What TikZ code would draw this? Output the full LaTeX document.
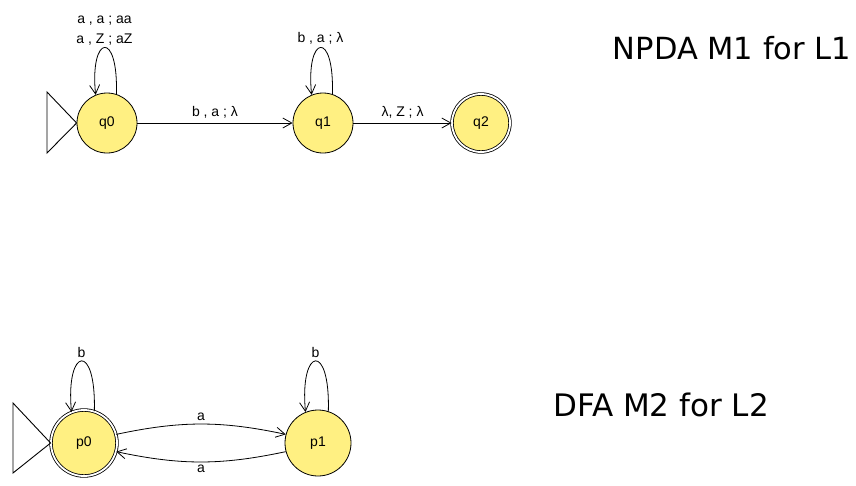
\documentclass[tikz,border=0pt]{standalone}
\usepackage{fontspec}
\setmainfont{Liberation Sans}
\newfontfamily\titlefont{DejaVu Sans}
\usetikzlibrary{arrows.meta}
\definecolor{stfill}{RGB}{255,240,130}
\begin{document}
\begin{tikzpicture}[x=1pt,y=-1pt,
  st/.style={circle,draw,line width=0.8pt,fill=stfill,minimum size=60pt,inner sep=0pt,font=\fontsize{14}{14}\selectfont},
  acc/.style={st,double,double distance=1.8pt},
  edge/.style={-{Straight Barb[length=9pt,width=10pt]},line width=0.8pt},
  lbl/.style={font=\fontsize{14}{15}\selectfont,inner sep=1pt},
  tri/.style={draw,line width=0.9pt}]
\useasboundingbox (0,0) rectangle (856,485);
\node[st] (q0) at (107,123) {q0};
\node[st] (q1) at (323,123) {q1};
\node[acc,minimum size=58pt] (q2) at (481,123) {q2};
\node[acc,minimum size=66pt] (p0) at (84,443) {p0};
\node[st,minimum size=66pt] (p1) at (318,443) {p1};
\coordinate (t0a) at (47,92); \coordinate (t0b) at (47,153);
\draw[tri] (t0a) -- (q0.west) -- (t0b) -- cycle;
\coordinate (t1a) at (13,403); \coordinate (t1b) at (13,473);
\draw[tri] (t1a) -- (p0.west) -- (t1b) -- cycle;
\draw[edge] (q0.72) .. controls +(2,-65) and +(-6,-60) .. (q0.112) node[pos=0.5,above=1pt,lbl,align=center,font=\fontsize{14}{20}\selectfont] {a , a ; aa\\a , Z ; aZ};
\draw[edge] (q1.72) .. controls +(2,-65) and +(-6,-60) .. (q1.112) node[pos=0.5,above=2pt,lbl] {b , a ; λ};
\draw[edge] (p0.72) .. controls +(2,-70) and +(-6,-65) .. (p0.112) node[pos=0.5,above=2pt,lbl] {b};
\draw[edge] (p1.72) .. controls +(2,-70) and +(-6,-65) .. (p1.112) node[pos=0.5,above=2pt,lbl] {b};
\draw[edge] (q0) -- (q1) node[midway,above=3pt,lbl] {b , a ; λ};
\draw[edge] (q1) -- (q2) node[midway,above=3pt,lbl] {λ, Z ; λ};
\draw[edge] (p0.15) to[bend left=12] node[midway,above=2pt,lbl] {a} (p1.165);
\draw[edge] (p1.195) to[bend left=12] node[midway,below=2pt,lbl] {a} (p0.-15);
\node[font=\titlefont\fontsize{30.5}{31}\selectfont] (t1) at (732,48) {NPDA M1 for L1};
\node[font=\titlefont\fontsize{31}{32}\selectfont] (t2) at (661,405) {DFA M2 for L2};
\end{tikzpicture}
\end{document}
